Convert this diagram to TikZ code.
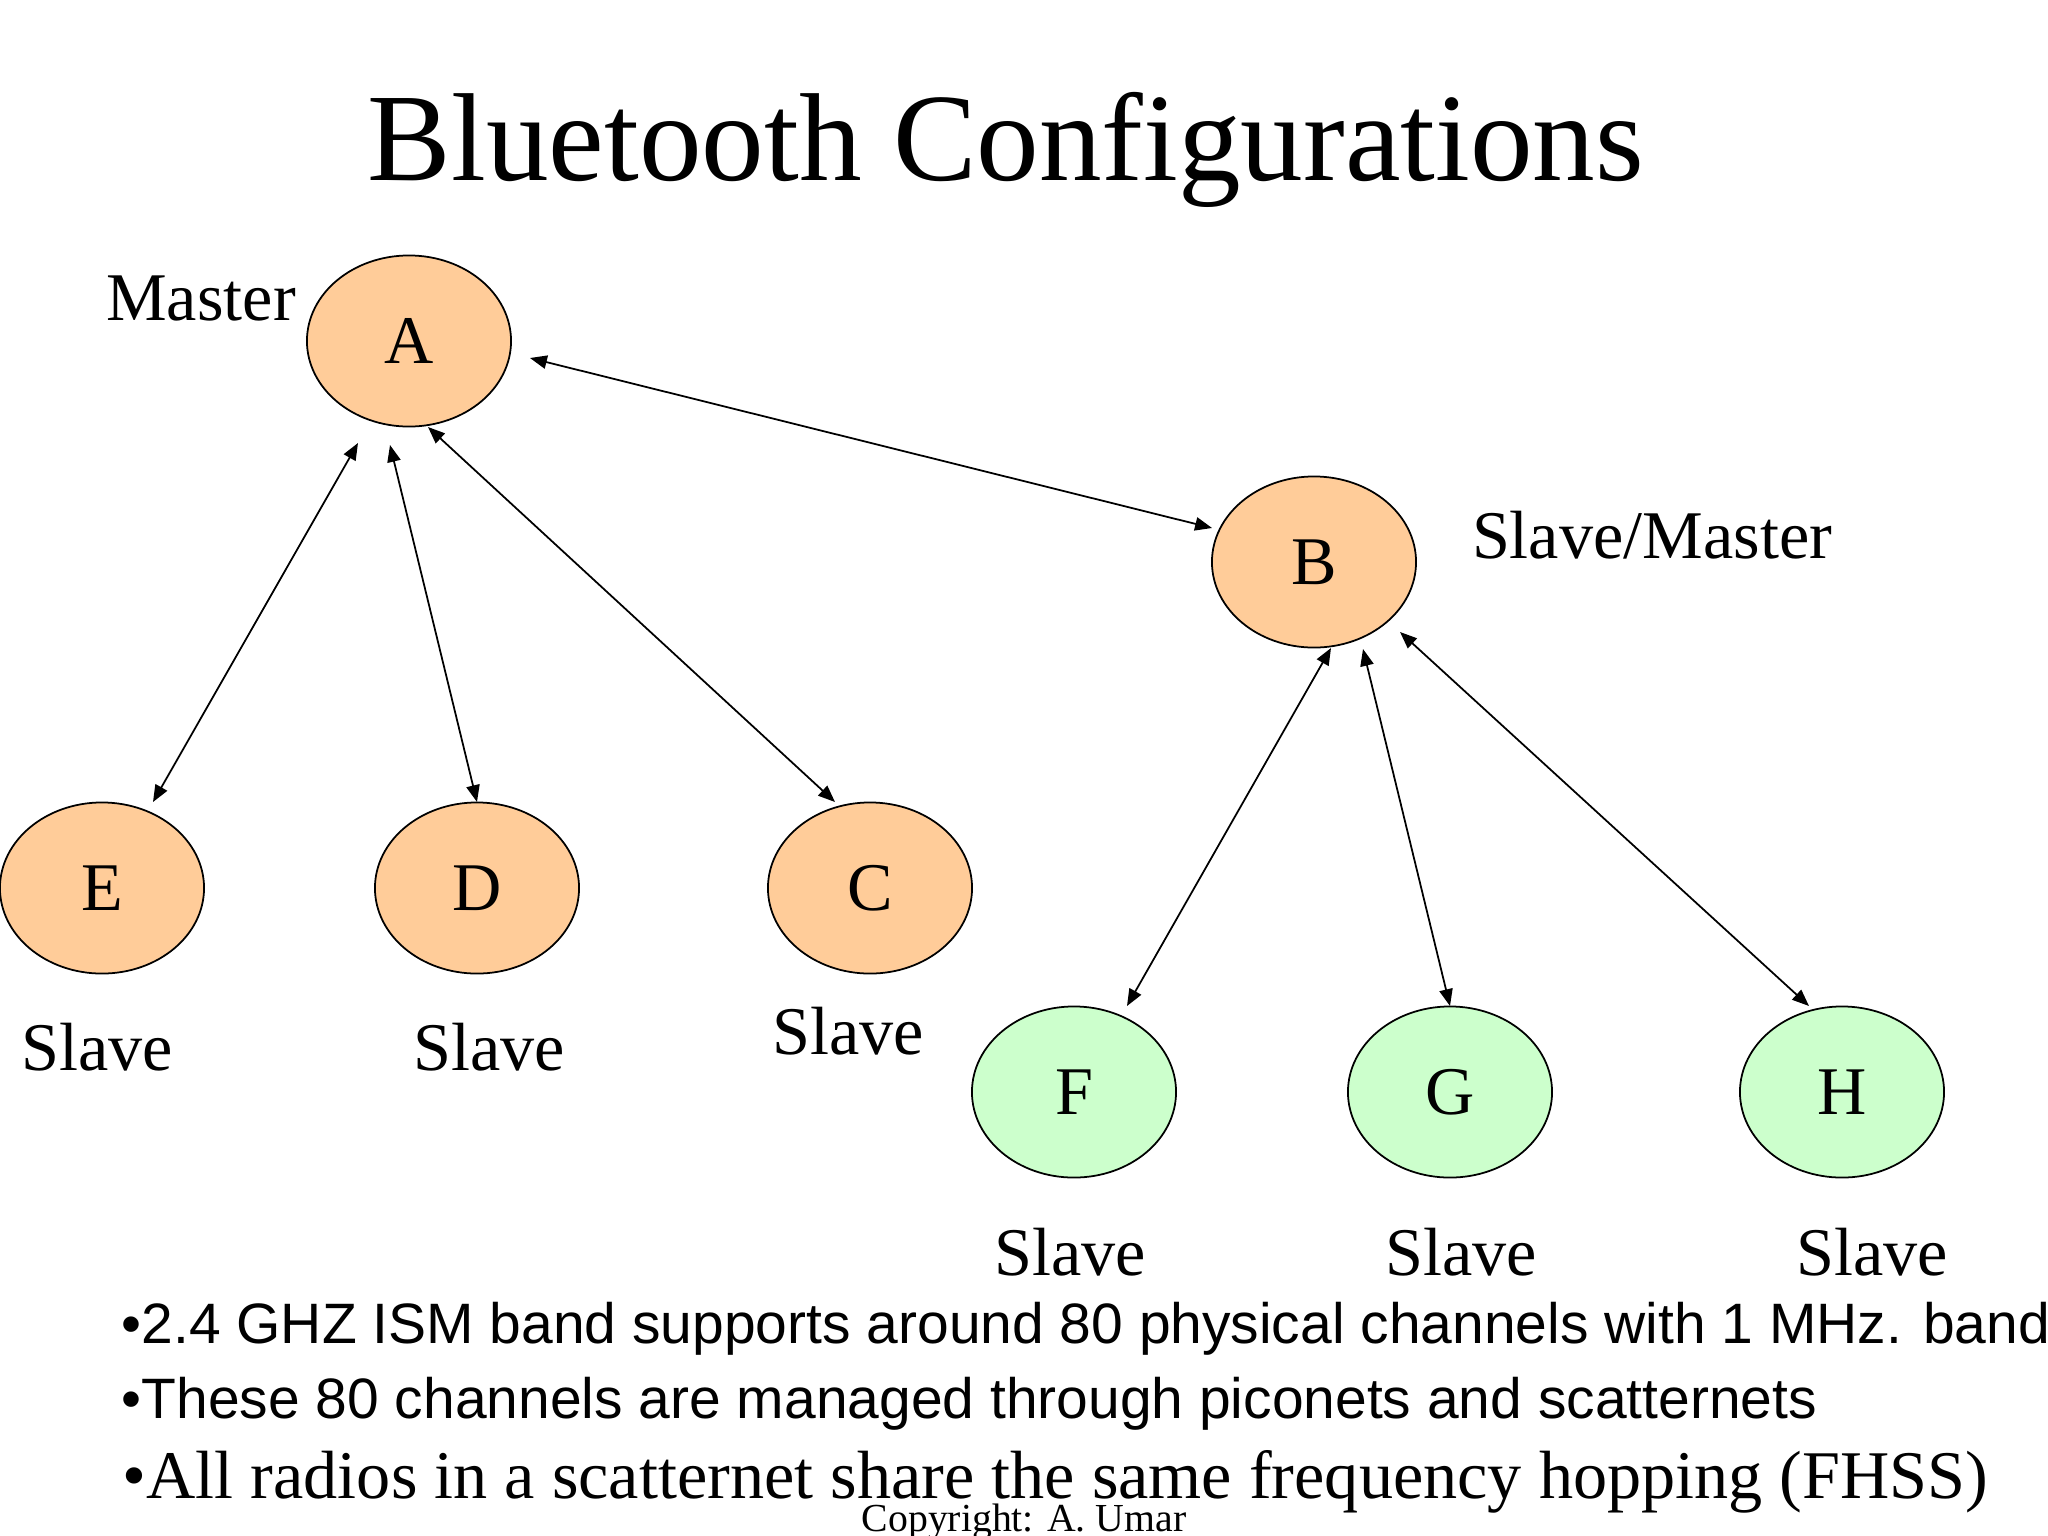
\documentclass[tikz,border=0pt]{standalone}
\usepackage{fontspec}
\setmainfont{Liberation Serif}
\newfontfamily\arialfont{Liberation Sans}
\usetikzlibrary{shapes.geometric,arrows.meta}
\definecolor{nodeorange}{HTML}{FFCC99}
\definecolor{nodegreen}{HTML}{CCFFCC}
\tikzset{
  device/.style={ellipse, draw, line width=0.5pt, minimum width=2.04cm, minimum height=1.71cm, inner sep=0pt, font=\fontsize{19.4}{22}\selectfont},
  master/.style={device, fill=nodeorange},
  slave/.style={device, fill=nodegreen},
  role/.style={anchor=base, font=\fontsize{19.4}{22}\selectfont},
  link/.style={line width=0.5pt, {Triangle[length=4.8pt,width=3.8pt]}-{Triangle[length=4.8pt,width=3.8pt]}},
  bullet/.style={anchor=base west, inner sep=0pt}
}
\begin{document}
\begin{tikzpicture}[x=0.01cm, y=-0.01cm]
  \useasboundingbox (0,0) rectangle (2048,1536);
  \clip (0,0) rectangle (2048,1536);
  \node[anchor=base, font=\fontsize{35.6}{40}\selectfont] (title) at (1006,180) {Bluetooth Configurations};

  % first piconet
  \node[master] (A) at (409,341) {A};
  \node[master] (E) at (102,888) {E};
  \node[master] (D) at (477,888) {D};
  \node[master] (C) at (870,888) {C};
  \node[role] (lblA) at (201,320) {Master};
  \node[role] (lblE) at (97,1070) {Slave};
  \node[role] (lblD) at (489,1070) {Slave};
  \node[role] (lblC) at (848,1054) {Slave};

  % second piconet
  \node[master] (B) at (1314,562) {B};
  \node[slave] (F) at (1074,1092) {F};
  \node[slave] (G) at (1450,1092) {G};
  \node[slave] (H) at (1842,1092) {H};
  \node[role] (lblB) at (1652,558) {Slave/Master};
  \node[role] (lblF) at (1070,1275) {Slave};
  \node[role] (lblG) at (1461,1275) {Slave};
  \node[role] (lblH) at (1872,1275) {Slave};

  \draw[link] ([shift={(-51,102)}]A.center) -- ([shift={(51,-86)}]E.center);
  \draw[link] ([shift={(-19,104)}]A.center) -- ([shift={(0,-86)}]D.center);
  \draw[link] ([shift={(19,86)}]A.center) -- ([shift={(-35,-86)}]C.center);
  \draw[link] ([shift={(121,17)}]A.center) -- ([shift={(-102,-34)}]B.center);
  \draw[link] ([shift={(17,86)}]B.center) -- ([shift={(53,-86)}]F.center);
  \draw[link] ([shift={(49,87)}]B.center) -- ([shift={(0,-86)}]G.center);
  \draw[link] ([shift={(86,70)}]B.center) -- ([shift={(-33,-86)}]H.center);

  % notes
  \node[bullet, font=\arialfont\fontsize{16.2}{19}\selectfont] (note1) at (121,1343) {•2.4 GHZ ISM band supports around 80 physical channels with 1 MHz. bandwidth};
  \node[bullet, font=\arialfont\fontsize{16.2}{19}\selectfont] (note2) at (121,1418) {•These 80 channels are managed through piconets and scatternets};
  \node[bullet, font=\fontsize{19.4}{23}\selectfont] (note3) at (122,1498) {•All radios in a scatternet share the same frequency hopping (FHSS)};
  \node[anchor=base, font=\fontsize{11.3}{13}\selectfont] (copy) at (1024,1531) {Copyright: A. Umar};
\end{tikzpicture}
\end{document}
